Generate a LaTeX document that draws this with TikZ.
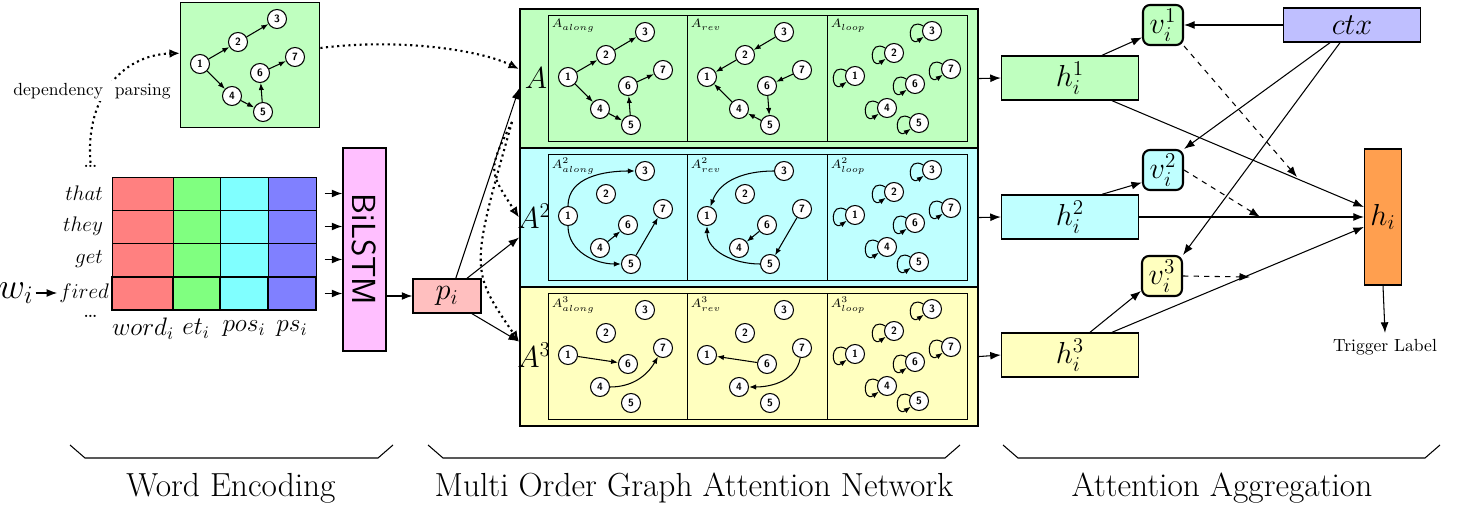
\documentclass[tikz,border=0pt]{standalone}
\usepackage{amsmath}
\usetikzlibrary{positioning, arrows.meta}

\definecolor{pgreen}{HTML}{BFFFBF}
\definecolor{pcyan}{HTML}{BFFFFF}
\definecolor{pyellow}{HTML}{FFFFBF}
\definecolor{cred}{HTML}{FF8080}
\definecolor{cgreen}{HTML}{80FF80}
\definecolor{ccyan}{HTML}{80FFFF}
\definecolor{cblue}{HTML}{8080FF}
\definecolor{ppink}{HTML}{FFBFFF}
\definecolor{psalmon}{HTML}{FFBFBF}
\definecolor{plav}{HTML}{BFBFFF}
\definecolor{porange}{HTML}{FF9F4F}

\tikzset{
  gn/.style={circle, draw, semithick, fill=white, minimum size=0.38cm, inner sep=0pt, font=\sffamily\bfseries\fontsize{6}{6}\selectfont},
  ge/.style={-{Latex[length=4pt,width=3pt]}, semithick},
  gl/.style={-{Latex[length=4pt,width=3pt]}, semithick, loop, out=150, in=215, min distance=0.4cm},
  panel/.style={draw, thick, anchor=north west, minimum height=2.52cm, inner sep=0pt},
  row/.style={draw, very thick, anchor=north west, minimum width=9.16cm, minimum height=2.78cm, inner sep=0pt},
  cell/.style={draw, anchor=north west, minimum height=0.66cm, inner sep=0pt, outer sep=0pt},
  hbox/.style={draw, thick, minimum width=2.74cm, minimum height=0.68cm, font=\fontsize{17}{18}\selectfont},
  vbox/.style={draw, very thick, rounded corners=4pt, minimum size=0.8cm, inner sep=0pt, font=\fontsize{17}{18}\selectfont},
  word/.style={anchor=east, inner sep=1pt, font=\fontsize{13}{14}\selectfont},
  big/.style={font=\fontsize{14}{16}\selectfont},
  sec/.style={font=\fontsize{19}{21}\selectfont},
  ar/.style={-{Latex[length=6pt,width=4.5pt]}, semithick},
  dep/.style={dotted, very thick, -{Latex[open,length=6pt,width=5pt]}},
}

\newcommand{\gnodes}[3]{%
  \foreach \n/\gx/\gy in {1/20/62,2/58/40,3/97/17,4/52/94,5/83/110,6/80/71,7/115/55}
    \node[gn] (#1-\n) at (#2+\gx,#3+\gy) {\n};}
\newcommand{\lnodes}[3]{%
  \foreach \n/\gx/\gy in {1/28/61,2/67/38,3/105/16,4/60/93,5/92/108,6/88/69,7/124/54}{
    \node[gn] (#1-\n) at (#2+\gx,#3+\gy) {\n};
    \path (#1-\n) edge[gl] (#1-\n);}}

\begin{document}
\begin{tikzpicture}[x=0.02cm, y=-0.02cm]
\useasboundingbox (0,0) rectangle (1461,506);

% dependency graph
\node[draw, thick, fill=pgreen, anchor=north west, minimum width=2.78cm, minimum height=2.5cm] (dep) at (180,2) {};
\gnodes{d}{180}{2}
\foreach \a/\b in {1/2,2/3,1/4,4/5,5/6,6/7} \draw[ge] (d-\a) -- (d-\b);

% word table
\foreach \r/\ty in {1/177,2/210,3/243,4/277}{
  \node[cell, fill=cred, minimum width=1.22cm] (w\r) at (112,\ty) {};
  \node[cell, fill=cgreen, minimum width=0.94cm, right=0pt of w\r] (e\r) {};
  \node[cell, fill=ccyan, minimum width=0.96cm, right=0pt of e\r] (p\r) {};
  \node[cell, fill=cblue, minimum width=0.96cm, right=0pt of p\r] (s\r) {};
}
\foreach \c in {w4,e4,p4,s4} \draw[very thick] (\c.north west) rectangle (\c.south east);

\node[word] (dots1) at (100,166) {\dots};
\node[word] (that) at (105,193) {$that$};
\node[word] (they) at (105,226) {$they$};
\node[word] (get) at (105,259) {$get$};
\node[word] (fired) at (111,293) {$fired$};
\node[word] (dots2) at (100,316) {\dots};
\node[font=\fontsize{22}{24}\selectfont, inner sep=1pt] (wi) at (16,293) {$w_i$};
\draw[ar] (wi) -- (fired);

\node[big] at (143,329) {$word_i$};
\node[big] at (196,329) {$et_i$};
\node[big] at (244,329) {$pos_i$};
\node[big] at (292,329) {$ps_i$};

\node[draw, thick, fill=ppink, minimum width=0.86cm, minimum height=4.06cm, inner sep=0pt] (lstm) at (364.5,249.5) {};
\node[rotate=-90, font=\sffamily\fontsize{19}{20}\selectfont] at (lstm) {BiLSTM};
\foreach \r in {1,2,3,4} \draw[ar] ([xshift=5pt]s\r.east) -- (s\r.east -| lstm.west);

\node[draw, thick, fill=psalmon, minimum width=1.36cm, minimum height=0.68cm, font=\fontsize{17}{18}\selectfont] (pi) at (447,296) {$p_i$};
\draw[ar] (lstm.east |- pi) -- (pi.west);

\draw[dep] (dots1.north) .. controls (85,100) and (120,55) .. ([yshift=0.24cm]dep.west);
\node[fill=white, inner sep=1pt, font=\fontsize{10}{12}\selectfont] (dp) at (92,91) {dependency\ \ parsing};

% graph attention rows
\node[row, fill=pgreen] (rowA) at (519,8) {};
\node[row, fill=pcyan] (rowB) at (519,147) {};
\node[row, fill=pyellow] (rowC) at (519,286) {};
\node[font=\fontsize{18}{20}\selectfont] at (536,78) {$A$};
\node[font=\fontsize{18}{20}\selectfont] at (534,216) {$A^2$};
\node[font=\fontsize{18}{20}\selectfont] at (534,355) {$A^3$};

\foreach \r/\ty/\sup in {1/15/,2/154/2,3/293/3}{
  \node[panel, minimum width=2.78cm] (r\r a) at (548,\ty) {};
  \node[panel, minimum width=2.8cm] (r\r r) at (687,\ty) {};
  \node[panel, minimum width=2.8cm] (r\r l) at (827,\ty) {};
  \node[anchor=north west, inner sep=2pt, font=\fontsize{7}{8}\selectfont] at (r\r a.north west) {$A^{\sup}_{along}$};
  \node[anchor=north west, inner sep=2pt, font=\fontsize{7}{8}\selectfont] at (r\r r.north west) {$A^{\sup}_{rev}$};
  \node[anchor=north west, inner sep=2pt, font=\fontsize{7}{8}\selectfont] at (r\r l.north west) {$A^{\sup}_{loop}$};
  \gnodes{a\r}{548}{\ty}
  \gnodes{v\r}{687}{\ty}
  \lnodes{l\r}{827}{\ty}
}
% first order
\foreach \a/\b in {1/2,2/3,1/4,4/5,5/6,6/7}{
  \draw[ge] (a1-\a) -- (a1-\b);
  \draw[ge] (v1-\b) -- (v1-\a);}
% second order
\draw[ge] (a2-1) to[out=90, in=180] (a2-3);
\draw[ge] (a2-1) to[out=-90, in=180] (a2-5);
\draw[ge] (a2-4) -- (a2-6);
\draw[ge] (a2-5) -- (a2-7);
\draw[ge] (v2-3) to[out=180, in=70] (v2-1);
\draw[ge] (v2-5) to[out=180, in=-90] (v2-1);
\draw[ge] (v2-6) -- (v2-4);
\draw[ge] (v2-7) -- (v2-5);
% third order
\draw[ge] (a3-1) -- (a3-6);
\draw[ge] (a3-4) to[out=0, in=-120] (a3-7);
\draw[ge] (v3-6) -- (v3-1);
\draw[ge] (v3-7) to[out=-100, in=0] (v3-4);

\draw[ar] ([xshift=5pt]pi.north) -- ([yshift=-0.2cm]rowA.west);
\draw[ar] ([xshift=0.4cm]pi.north) -- ([yshift=-0.4cm]rowB.west);
\draw[ar] ([xshift=0.5cm]pi.south) -- ([yshift=0.3cm]rowC.west);

\coordinate (dsplit) at (512,122);
\draw[dep] (dep.east |- 0,48) .. controls (400,38) and (480,50) .. ([yshift=0.19cm]rowA.west);
\draw[dep] (dsplit) .. controls (488,170) .. (rowB.west);
\draw[dep] (dsplit) .. controls (470,270) .. ([yshift=0.3cm]rowC.west);

% aggregation
\node[hbox, fill=pgreen] (h1) at (1070,78) {$h_i^1$};
\node[hbox, fill=pcyan] (h2) at (1070,217) {$h_i^2$};
\node[hbox, fill=pyellow] (h3) at (1070,355) {$h_i^3$};
\node[vbox, fill=pgreen] (v1) at (1163,25) {$v_i^1$};
\node[vbox, fill=pcyan] (v2) at (1163,170) {$v_i^2$};
\node[vbox, fill=pyellow] (v3) at (1162,276) {$v_i^3$};
\node[hbox, fill=plav] (ctx) at (1352,25) {$ctx$};
\node[draw, thick, fill=porange, minimum width=0.68cm, minimum height=2.72cm, font=\fontsize{17}{18}\selectfont] (hi) at (1383,217) {$h_i$};
\node[font=\fontsize{10}{12}\selectfont] (trig) at (1385,347) {Trigger Label};

\draw[ar] (rowA.east) -- (h1.west);
\draw[ar] (rowB.east) -- (h2.west);
\draw[ar] (rowC.east) -- (h3.west);

\draw[ar] ([xshift=0.64cm]h1.north) -- ([yshift=-0.25cm]v1.west);
\draw[ar] ([xshift=0.64cm]h2.north) -- ([yshift=-0.25cm]v2.west);
\draw[ar] ([xshift=0.4cm]h3.north) -- ([yshift=-0.3cm]v3.west);
\draw[ar] (ctx.west) -- (v1.east);
\draw[ar] ([xshift=-0.44cm]ctx.south) -- (v2.north east);
\draw[ar] ([xshift=-0.24cm]ctx.south) -- (v3.north east);
\draw[ar] ([xshift=0.84cm]h1.south) -- ([yshift=0.2cm]hi.west);
\draw[ar] (h2.east) -- (hi.west);
\draw[ar] ([xshift=0.84cm]h3.north) -- ([yshift=-0.2cm]hi.west);

\coordinate (d1) at (1297,177);
\coordinate (d2) at (1260,217);
\coordinate (d3) at (1250,277);
\draw[ar, dashed] (v1.south east) -- (d1);
\draw[ar, dashed] (v2.east) -- (d2);
\draw[ar, dashed] (v3.east) -- (d3);
\draw[ar] (hi.south) -- (trig.north);

% section brackets
\node[sec] (secA) at (231,488) {Word Encoding};
\node[sec] (secB) at (694,488) {Multi Order Graph Attention Network};
\node[sec] (secC) at (1222,488) {Attention Aggregation};
\draw[semithick] (70,445) -- (85,458) -- (378,458) -- (393,445);
\draw[semithick] (428,445) -- (443,458) -- (945,458) -- (960,445);
\draw[semithick] (1003,445) -- (1018,458) -- (1425,458) -- (1440,445);
\end{tikzpicture}
\end{document}
